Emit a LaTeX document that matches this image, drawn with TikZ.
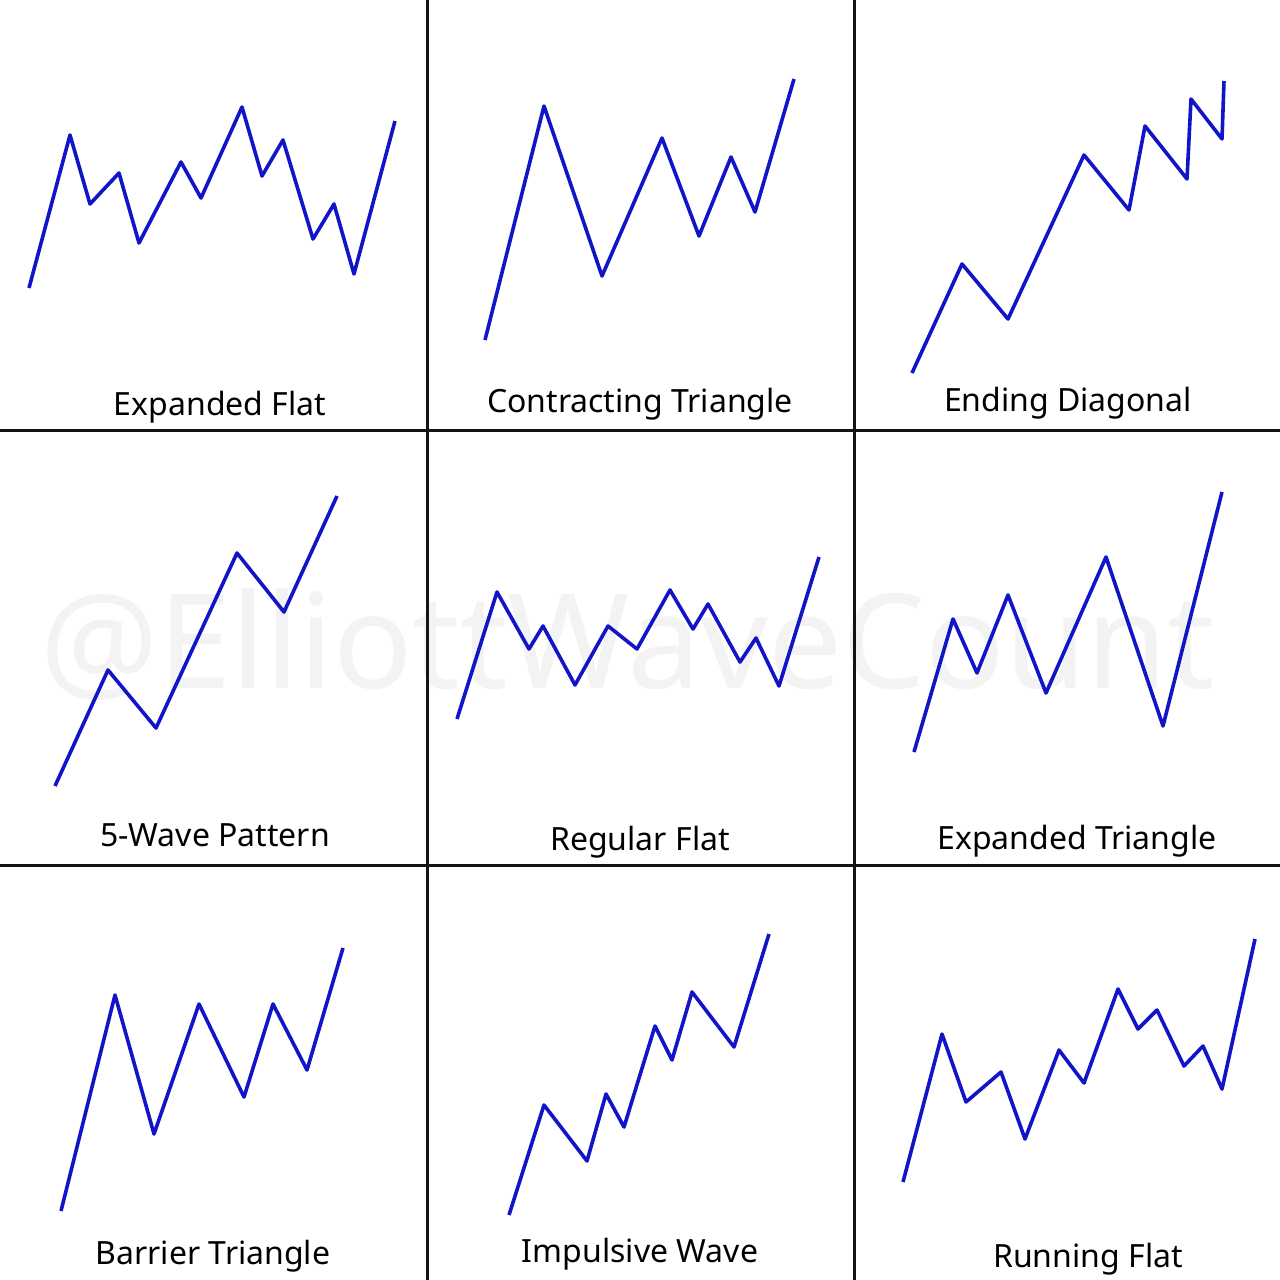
\documentclass[tikz,border=0pt]{standalone}
\usepackage{fontspec}
\setmainfont{Noto Sans}
\definecolor{wave}{RGB}{18,20,200}
\definecolor{grid}{RGB}{20,20,20}
\definecolor{wm}{RGB}{243,243,243}
\begin{document}
\begin{tikzpicture}[x=1pt,y=-1pt,
  wavel/.style={draw=wave,line width=3.6pt,line join=round},
  gridl/.style={draw=grid,line width=3pt},
  lbl/.style={anchor=base,inner sep=0pt,font=\fontsize{32}{38}\selectfont,text=black}]
\useasboundingbox[fill=white] (0,0) rectangle (1280,1280);
% watermark
\node[anchor=base west,inner sep=0pt,text=wm] (wmark) at (40,688)
  {\resizebox{1175pt}{!}{\fontsize{100}{120}\selectfont @ElliottWaveCount}};
% grid
\draw[gridl] (427,0) -- (427,1280);
\draw[gridl] (854,0) -- (854,1280);
\draw[gridl] (0,430) -- (1280,430);
\draw[gridl] (0,865) -- (1280,865);
% 1 Expanded Flat
\draw[wavel] (29,288) -- (70,135) -- (90,204) -- (119,173) -- (139,243) -- (181,162) -- (201,198) -- (242,107) -- (262,176) -- (283,140) -- (313,239) -- (334,204) -- (354,274) -- (395,121);
% 2 Contracting Triangle
\draw[wavel] (485,340) -- (544,106) -- (602,276) -- (662,138) -- (699,236) -- (731,157) -- (755,212) -- (794,79);
% 3 Ending Diagonal
\draw[wavel] (912,373) -- (962,264) -- (1008,319) -- (1084,155) -- (1129,210) -- (1145,126) -- (1187,179) -- (1191,99) -- (1222,139) -- (1224,81);
% 4 5-Wave Pattern
\draw[wavel] (55,786) -- (108,670) -- (156,728) -- (237,553) -- (284,612) -- (337,496);
% 5 Regular Flat
\draw[wavel] (457,719) -- (497,592) -- (529,649) -- (543,626) -- (575,685) -- (608,626) -- (637,649) -- (670,590) -- (693,629) -- (708,604) -- (740,662) -- (756,638) -- (779,686) -- (819,557);
% 6 Expanded Triangle
\draw[wavel] (914,752) -- (953,619) -- (977,673) -- (1008,595) -- (1046,693) -- (1106,557) -- (1163,726) -- (1222,492);
% 7 Barrier Triangle
\draw[wavel] (61,1211) -- (115,995) -- (154,1134) -- (199,1004) -- (244,1097) -- (273,1004) -- (307,1070) -- (343,948);
% 8 Impulsive Wave
\draw[wavel] (509,1215) -- (544,1105) -- (587,1161) -- (606,1094) -- (624,1127) -- (655,1026) -- (672,1060) -- (692,992) -- (734,1047) -- (769,934);
% 9 Running Flat
\draw[wavel] (903,1182) -- (942,1034) -- (966,1102) -- (1001,1072) -- (1025,1139) -- (1059,1050) -- (1084,1083) -- (1118,989) -- (1138,1029) -- (1157,1010) -- (1184,1066) -- (1203,1046) -- (1222,1089) -- (1255,939);
% labels
\node[lbl] (l1) at (220,415) {Expanded Flat};
\node[lbl] (l2) at (640,412) {Contracting Triangle};
\node[lbl] (l3) at (1068,411) {Ending Diagonal};
\node[lbl] (l4) at (215,846) {5-Wave Pattern};
\node[lbl] (l5) at (640,850) {Regular Flat};
\node[lbl] (l6) at (1077,849) {Expanded Triangle};
\node[lbl] (l7) at (213,1264) {Barrier Triangle};
\node[lbl] (l8) at (640,1262) {Impulsive Wave};
\node[lbl] (l9) at (1088,1267) {Running Flat};
\end{tikzpicture}
\end{document}
